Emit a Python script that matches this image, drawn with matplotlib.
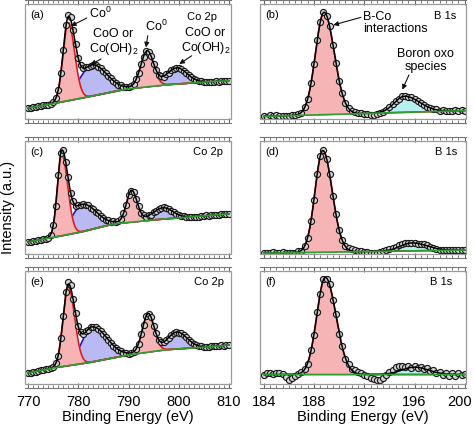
import numpy as np
import matplotlib.pyplot as plt
import matplotlib.transforms as mtransforms
from matplotlib.patches import Rectangle
from matplotlib.ticker import MultipleLocator

plt.rcParams['font.family'] = ['Liberation Sans', 'DejaVu Sans']
plt.rcParams['mathtext.default'] = 'regular'

# Co 2p spectra, 770-810 eV, one point every 0.5 eV (intensity in a.u., 0-100 of frame)
co_energy = np.arange(770, 810.01, 0.5)
co_a = [9.6, 9.5, 10.4, 10.3, 11.2, 11.1, 12.0, 12.4, 12.5, 13.4,
        14.8, 18.0, 25.0, 40.2, 59.8, 81.5, 90.2, 88.6, 77.0, 64.8,
        53.0, 47.3, 44.0, 44.9, 45.3, 46.2, 46.6, 46.9, 45.2, 44.3,
        41.6, 40.1, 37.2, 35.5, 33.0, 31.7, 29.9, 29.3, 28.1, 27.8,
        27.5, 28.9, 30.3, 34.7, 39.8, 47.8, 54.0, 59.1, 58.5, 55.0,
        47.9, 42.8, 38.2, 37.3, 36.9, 39.1, 40.2, 42.6, 43.4, 44.7,
        44.0, 43.7, 41.6, 40.4, 37.9, 36.8, 34.7, 34.1, 32.9, 33.0,
        32.2, 32.6, 32.1, 32.6, 32.4, 32.9, 32.6, 33.1, 32.9, 33.4,
        33.2]
co_c = [10.8, 10.7, 11.6, 11.5, 12.4, 12.3, 13.2, 13.3, 14.6, 16.8,
        25.6, 42.7, 69.9, 89.7, 92.3, 81.8, 67.9, 53.8, 46.5, 42.8,
        43.1, 43.2, 44.3, 43.4, 43.2, 41.0, 40.0, 37.3, 35.9, 33.3,
        32.2, 30.1, 29.9, 28.6, 28.8, 28.1, 29.2, 30.9, 36.3, 43.1,
        51.8, 55.8, 55.2, 48.8, 42.3, 36.3, 34.1, 32.9, 34.2, 34.9,
        37.2, 38.1, 40.0, 40.3, 41.2, 40.3, 40.0, 38.2, 37.4, 35.5,
        34.9, 33.6, 33.5, 32.8, 32.6, 32.4, 32.7, 32.9, 33.1, 33.8,
        33.5, 34.2, 33.9, 34.5, 34.2, 34.9, 34.6, 35.3, 35.0, 35.6,
        35.4]
co_e = [9.9, 9.8, 10.9, 10.8, 11.7, 12.1, 12.2, 13.1, 13.1, 14.3,
        15.0, 18.5, 25.2, 40.3, 60.2, 81.3, 90.0, 87.3, 75.3, 62.6,
        51.0, 45.9, 44.2, 46.6, 48.2, 50.3, 50.1, 50.2, 48.3, 47.0,
        44.0, 41.9, 38.5, 36.6, 33.6, 32.1, 29.8, 29.2, 27.7, 27.6,
        26.8, 27.8, 28.1, 31.2, 35.6, 43.9, 52.3, 60.4, 62.0, 59.3,
        51.5, 44.8, 38.9, 37.2, 36.9, 39.2, 40.9, 43.6, 44.8, 46.2,
        45.4, 45.1, 43.0, 41.5, 38.9, 37.5, 35.3, 34.7, 33.4, 33.4,
        32.7, 33.1, 32.7, 33.3, 33.2, 33.8, 33.5, 34.2, 34.0, 34.6,
        34.4]

# B 1s spectra, 184-200 eV, one point every 0.25 eV
b_energy = np.arange(184, 200.01, 0.25)
b_b = [2.6, 2.0, 3.1, 2.9, 3.2, 2.4, 2.5, 3.0, 2.6, 3.4,
       3.1, 4.5, 5.6, 10.4, 17.2, 31.1, 47.5, 68.3, 84.0, 92.9,
       89.7, 80.6, 64.6, 49.1, 33.1, 22.6, 13.6, 9.7, 7.2, 6.2,
       5.6, 5.2, 4.5, 4.1, 3.9, 3.8, 4.2, 4.9, 6.2, 8.0,
       10.3, 12.9, 15.6, 17.4, 19.6, 20.2, 19.1, 18.9, 17.0, 15.9,
       13.6, 12.6, 10.5, 9.9, 8.4, 8.3, 7.2, 7.7, 6.8, 7.3,
       6.7, 7.4, 7.0, 7.5, 7.2]
b_d = [1.2, 0.5, 1.3, 1.6, 0.6, 0.7, 1.4, 0.9, 0.6, 1.0,
       1.1, 2.3, 3.0, 7.5, 14.4, 29.4, 48.1, 70.9, 86.5, 91.9,
       84.1, 70.6, 51.6, 35.5, 20.8, 12.6, 7.3, 5.2, 4.4, 3.6,
       3.0, 2.6, 1.8, 1.5, 1.2, 1.0, 1.3, 1.9, 2.4, 3.6,
       4.4, 5.4, 6.5, 7.9, 8.9, 9.5, 9.8, 9.5, 9.3, 9.0,
       8.9, 8.6, 7.7, 6.5, 5.2, 4.4, 3.8, 3.5, 3.4, 3.9,
       3.2, 3.9, 3.1, 3.8, 3.3]
b_f = [8.0, 9.3, 9.8, 8.6, 9.9, 10.1, 8.7, 6.2, 3.4, 4.9,
       7.3, 8.7, 10.8, 13.6, 18.0, 29.8, 43.3, 63.9, 79.8, 93.2,
       92.6, 88.3, 74.3, 61.6, 44.5, 33.9, 22.1, 17.6, 13.5, 12.2,
       10.3, 9.4, 8.0, 7.1, 5.6, 4.6, 3.9, 3.2, 5.1, 7.8,
       10.2, 12.6, 14.8, 15.9, 16.2, 15.1, 16.0, 14.3, 15.8, 14.0,
       15.2, 13.1, 13.8, 11.2, 12.1, 9.6, 10.8, 8.1, 9.8, 7.4,
       9.9, 6.8, 9.4, 7.9, 9.0]

# background anchor points (energy, intensity)
bg_a_e = [769.5, 774.5, 781.5, 789.5, 797.0, 804.5, 810.5]
bg_a_v = [9.0, 13.0, 18.8, 26.0, 29.6, 32.0, 33.4]
bg_c_e = [769.5, 774.4, 780.3, 787.0, 794.9, 801.5, 810.5]
bg_c_v = [10.2, 14.2, 19.2, 26.6, 30.2, 32.5, 35.7]
bg_e_e = [769.5, 775.0, 781.7, 790.3, 797.0, 804.9, 810.5]
bg_e_v = [9.3, 14.2, 18.6, 26.0, 30.2, 32.5, 34.7]
bg_b_e, bg_b_v = [183.7, 200.1], [2.2, 7.3]
bg_d_e, bg_d_v = [183.7, 200.1], [0.75, 3.5]
bg_f_e, bg_f_v = [183.7, 200.1], [8.4, 8.4]

# fitted components: (kind, centre, height, fwhm low side, fwhm high side)
fit_a = [('blue', 782.7, 27, 6.0, 7.0), ('blue', 799.6, 14, 5.0, 4.8),
         ('red', 778.0, 68, 2.4, 3.0), ('red', 793.7, 31, 3.0, 3.0)]
fit_c = [('blue', 780.8, 24, 5.0, 6.5), ('blue', 796.9, 10, 5.0, 4.5),
         ('red', 776.7, 72, 2.0, 2.8), ('red', 790.6, 28, 2.4, 2.6)]
fit_e = [('blue', 782.7, 31, 4.8, 7.0), ('blue', 799.6, 15, 4.5, 4.8),
         ('red', 778.0, 70, 2.4, 3.0), ('red', 793.9, 34, 2.7, 2.8)]
fit_b = [('cyan', 195.2, 14, 1.9, 2.8), ('red', 188.8, 89, 1.6, 1.9)]
fit_d = [('cyan', 195.8, 7, 2.2, 2.8), ('red', 188.7, 90, 1.45, 1.75)]
fit_f = [('cyan', 196.0, 6.5, 2.4, 2.6), ('red', 188.9, 86, 1.6, 2.0)]

fill_col = {'red': '#f6b4b4', 'blue': '#b9b9f3', 'cyan': '#b6f0f0'}
line_col = {'red': '#e41a1a', 'blue': '#1515c8', 'cyan': '#2a9a9a'}

co_ticks = [770, 780, 790, 800, 810]
b_ticks = [184, 188, 192, 196, 200]


def peak(x, c, h, wl, wr):
    w = np.where(x < c, wl, wr)
    return h * np.exp(-4 * np.log(2) * (x - c) ** 2 / w ** 2)


def draw_panel(ax, x, y, bg_e, bg_v, fit, xlim):
    xf = np.linspace(x[0], x[-1], 1200)
    bg = np.interp(xf, bg_e, bg_v)
    total = bg.copy()
    z = 1.0
    for kind, c, h, wl, wr in fit:
        p = peak(xf, c, h, wl, wr)
        total += p
        # each component painted over the previous ones (red covers blue)
        ax.fill_between(xf, bg, bg + p, color=fill_col[kind], lw=0, zorder=z)
        ax.plot(xf, bg + p, color=line_col[kind], lw=1.2, zorder=z + 0.05)
        z += 0.1
    ax.plot(x, y, 'o', ms=4.4, mfc='#d4d4d4', mec='#1a1a1a', mew=0.85, zorder=3)
    ax.plot(xf, total, color='black', lw=1.1, zorder=4)
    ax.plot(xf, bg, color='#2e9e2e', lw=1.2, zorder=5)
    ax.set_xlim(xlim)
    ax.set_ylim(0, 100)
    ax.set_yticks([])
    for s in ['left', 'right']:
        ax.spines[s].set_visible(False)
    for s in ['top', 'bottom']:
        ax.spines[s].set_position(('outward', 3))
        ax.spines[s].set_color('#777777')
        ax.spines[s].set_linewidth(0.8)
    ax.add_patch(Rectangle((0, 0), 1, 1, transform=ax.transAxes, fill=False,
                           ec='#9a9a9a', lw=0.9, clip_on=False, zorder=6))
    ax.tick_params(axis='x', which='both', direction='in', top=True, bottom=True,
                   color='#666666', labelsize=10.5, pad=4)
    ax.tick_params(axis='x', which='major', length=3.5, width=0.8)
    ax.tick_params(axis='x', which='minor', length=2, width=0.6)


def arrow(ax, head, tail):
    ax.annotate('', xy=head, xytext=tail, xycoords='axes fraction',
                arrowprops=dict(arrowstyle='-|>', color='#111111', lw=0.8,
                                mutation_scale=7, shrinkA=0, shrinkB=0))


fig = plt.figure(figsize=(4.74, 4.27), dpi=100)
W, H = 474, 427
cols = [25, 260]
rows = [(5, 120), (142, 255), (272, 385)]
axes = {}
names = [['a', 'b'], ['c', 'd'], ['e', 'f']]
for r, (top, bot) in enumerate(rows):
    for c, left in enumerate(cols):
        axes[names[r][c]] = fig.add_axes([left / W, 1 - bot / H, 206 / W, (bot - top) / H])

co_lim = (769.4, 810.4)
b_lim = (183.7, 200.1)
draw_panel(axes['a'], co_energy, co_a, bg_a_e, bg_a_v, fit_a, co_lim)
draw_panel(axes['c'], co_energy, co_c, bg_c_e, bg_c_v, fit_c, co_lim)
draw_panel(axes['e'], co_energy, co_e, bg_e_e, bg_e_v, fit_e, co_lim)
draw_panel(axes['b'], b_energy, b_b, bg_b_e, bg_b_v, fit_b, b_lim)
draw_panel(axes['d'], b_energy, b_d, bg_d_e, bg_d_v, fit_d, b_lim)
draw_panel(axes['f'], b_energy, b_f, bg_f_e, bg_f_v, fit_f, b_lim)

for k in 'ace':
    axes[k].set_xticks(co_ticks, [str(t) for t in co_ticks])
    axes[k].xaxis.set_minor_locator(MultipleLocator(1))
for k in 'bdf':
    axes[k].set_xticks(b_ticks, [str(t) for t in b_ticks])
    axes[k].xaxis.set_minor_locator(MultipleLocator(0.5))
for k in 'abcd':
    axes[k].tick_params(axis='x', labelbottom=False)

# keep the last "200" label inside the figure edge
shift = mtransforms.ScaledTranslation(-4 / 72, 0, fig.dpi_scale_trans)
for lab in axes['f'].get_xticklabels():
    if lab.get_text() == '200':
        lab.set_transform(lab.get_transform() + shift)

# panel letters and core-level labels
for k in 'abcdef':
    axes[k].text(0.024, 0.915, '(%s)' % k, transform=axes[k].transAxes,
                 fontsize=8, ha='left', va='center')
axes['a'].text(0.861, 0.898, 'Co 2p', transform=axes['a'].transAxes, fontsize=8, ha='center', va='center')
axes['c'].text(0.888, 0.915, 'Co 2p', transform=axes['c'].transAxes, fontsize=8, ha='center', va='center')
axes['e'].text(0.893, 0.915, 'Co 2p', transform=axes['e'].transAxes, fontsize=8, ha='center', va='center')
axes['b'].text(0.898, 0.907, 'B 1s', transform=axes['b'].transAxes, fontsize=8, ha='center', va='center')
axes['d'].text(0.903, 0.915, 'B 1s', transform=axes['d'].transAxes, fontsize=8, ha='center', va='center')
axes['f'].text(0.880, 0.915, 'B 1s', transform=axes['f'].transAxes, fontsize=8, ha='center', va='center')

# annotations in panel (a)
ax = axes['a']
ax.text(0.311, 0.93, 'Co$^{0}$', transform=ax.transAxes, fontsize=9, ha='left', va='center')
arrow(ax, (0.223, 0.809), (0.30, 0.878))
ax.text(0.43, 0.674, 'CoO or\nCo(OH)$_2$', transform=ax.transAxes, fontsize=9,
        ha='center', va='center', linespacing=1.05)
arrow(ax, (0.319, 0.472), (0.369, 0.522))
ax.text(0.639, 0.817, 'Co$^{0}$', transform=ax.transAxes, fontsize=9, ha='center', va='center')
arrow(ax, (0.587, 0.623), (0.596, 0.724))
ax.text(0.876, 0.681, 'CoO or\nCo(OH)$_2$', transform=ax.transAxes, fontsize=9,
        ha='center', va='center', linespacing=1.05)
arrow(ax, (0.749, 0.478), (0.809, 0.55))

# annotations in panel (b)
ax = axes['b']
ax.text(0.502, 0.842, 'B-Co\ninteractions', transform=ax.transAxes, fontsize=9,
        ha='left', va='center', linespacing=1.05)
arrow(ax, (0.356, 0.817), (0.49, 0.884))
ax.text(0.805, 0.517, 'Boron oxo\nspecies', transform=ax.transAxes, fontsize=9,
        ha='center', va='center', linespacing=1.05)
arrow(ax, (0.691, 0.255), (0.723, 0.383))

fig.text(128 / W, 1 - 417 / H, 'Binding Energy (eV)', fontsize=10.5, ha='center', va='center')
fig.text(363 / W, 1 - 417 / H, 'Binding Energy (eV)', fontsize=10.5, ha='center', va='center')
fig.text(8 / W, 1 - 207 / H, 'Intensity (a.u.)', fontsize=10.5, ha='center', va='center',
         rotation=90)

fig.savefig('out.png', dpi=100)
